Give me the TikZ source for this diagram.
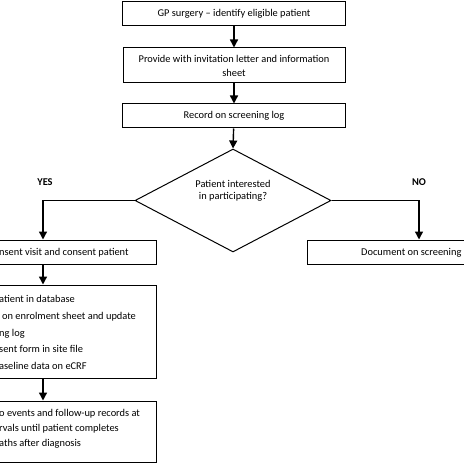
\documentclass[tikz,border=0pt]{standalone}
\usepackage{fontspec}
\setmainfont{Carlito}
\usetikzlibrary{shapes.geometric,arrows.meta}
\begin{document}
\begin{tikzpicture}[x=1bp,y=-1bp,
  every node/.style={font=\fontsize{10.4bp}{12bp}\selectfont},
  box/.style={draw, line width=1bp, inner sep=0pt, align=center},
  plain/.style={inner sep=0pt, align=left},
  lbl/.style={inner sep=0pt, font=\fontsize{10.4bp}{12bp}\selectfont\bfseries},
  arr/.style={line width=1.4bp, -{Triangle[length=8bp,width=8bp]}}]
\useasboundingbox (0,0) rectangle (464,464);
\clip (0,0) rectangle (464,464);
\node[box, minimum width=223bp, minimum height=24bp] (b1) at (234,14) {GP surgery -- identify eligible patient};
\node[box, minimum width=222bp, minimum height=35bp, font=\fontsize{10.4bp}{14bp}\selectfont] (b2) at (234,65.5) {Provide with invitation letter and information\\sheet};
\node[box, minimum width=223bp, minimum height=24bp] (b3) at (234,116) {Record on screening log};
\node[draw, diamond, line width=1bp, minimum width=196bp, minimum height=103bp, inner sep=0pt] (d) at (233,200.5) {};
\node[inner sep=0pt, align=center] (dt) at (233,191) {Patient interested\\in participating?};
\node[box, minimum width=166bp, minimum height=24bp] (l) at (73,252) {};
\node[plain, anchor=west] (lt) at (-1,252.5) {nsent visit and consent patient};
\node[box, minimum width=167bp, minimum height=24bp] (r) at (390.5,252) {};
\node[plain, anchor=west] (rt) at (361,252.5) {Document on screening};
\node[box, minimum width=166bp, minimum height=93bp] (b4) at (73,331.5) {};
\node[plain, anchor=west, font=\fontsize{10.4bp}{16.7bp}\selectfont] (b4t) at (-1,332.5) {atient in database\\\hspace*{3bp}on enrolment sheet and update\\ng log\\sent form in site file\\aseline data on eCRF};
\node[box, minimum width=166bp, minimum height=61bp] (b5) at (73,431.5) {};
\node[plain, anchor=west, font=\fontsize{10.4bp}{15bp}\selectfont] (b5t) at (-1,428.5) {o events and follow-up records at\\rvals until patient completes\\aths after diagnosis};
\node[lbl] (yes) at (45,182) {YES};
\node[lbl] (no) at (419,182) {NO};
\draw[arr] (b1) -- (b2);
\draw[arr] (b2) -- (b3);
\draw[arr] (b3) -- (d.north);
\draw[arr] (d.west) -| ([xshift=-30bp]l.north);
\draw[arr] (d.east) -| ([xshift=28.5bp]r.north);
\draw[arr] ([xshift=-30bp]l.south) -- ([xshift=-30bp]b4.north);
\draw[arr] ([xshift=-30bp]b4.south) -- ([xshift=-30bp]b5.north);
\end{tikzpicture}
\end{document}
